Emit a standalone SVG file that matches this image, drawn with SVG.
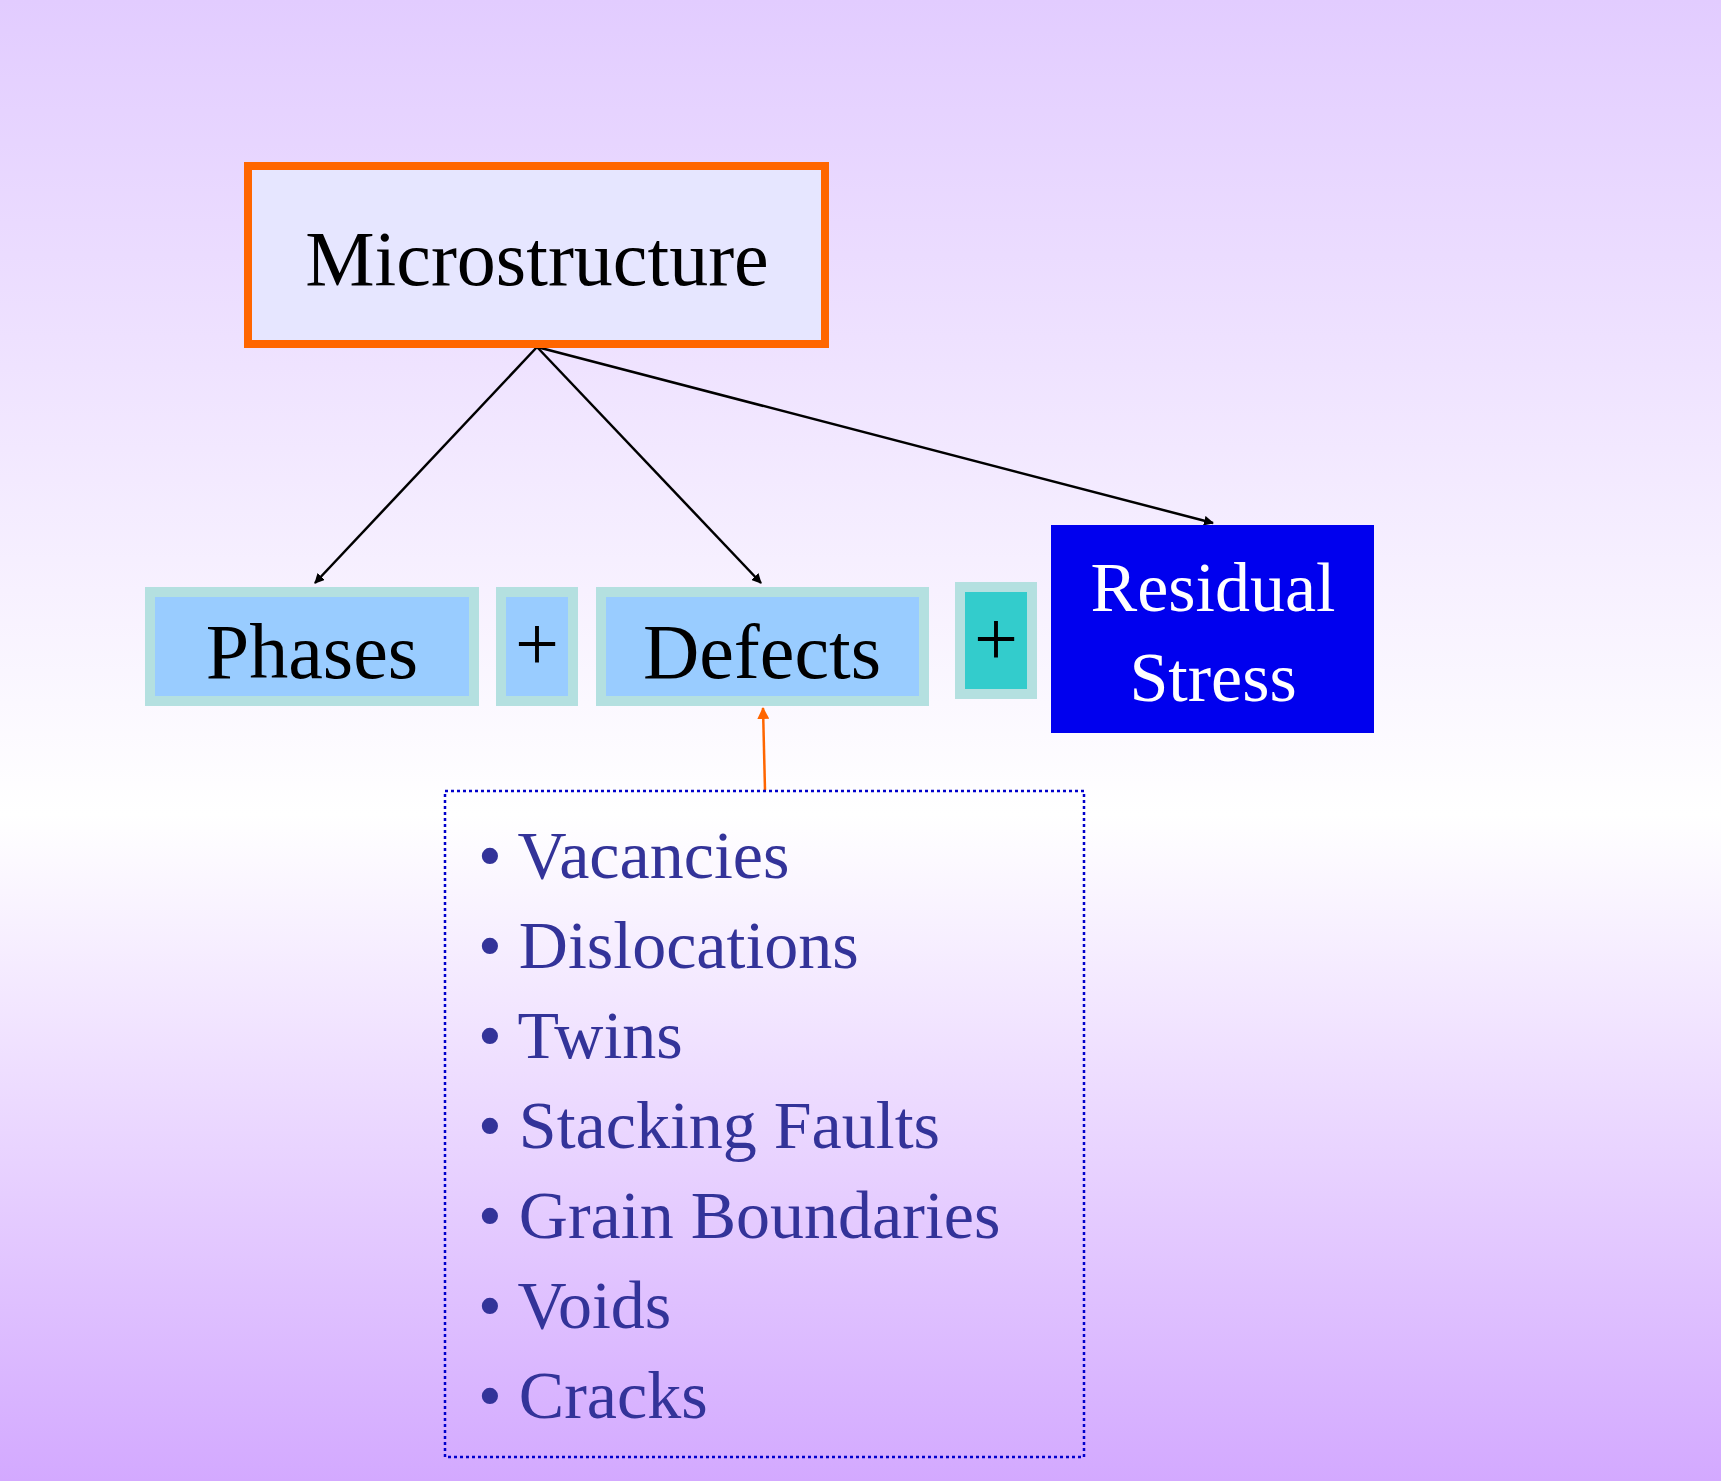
<svg xmlns="http://www.w3.org/2000/svg" width="1721" height="1481" viewBox="0 0 1721 1481">
<defs>
<linearGradient id="bg" x1="0" y1="0" x2="0" y2="1">
<stop offset="0" stop-color="#E2CCFF"/><stop offset="0.55" stop-color="#FFFFFF"/><stop offset="1" stop-color="#D3A9FF"/>
</linearGradient>
<marker id="ah" markerWidth="10" markerHeight="10" refX="9" refY="5" orient="auto" markerUnits="userSpaceOnUse" viewBox="0 0 10 10"><path d="M0,0 L10,5 L0,10 z" fill="#000"/></marker>
<marker id="ao" markerWidth="12" markerHeight="12" refX="11" refY="6" orient="auto" markerUnits="userSpaceOnUse" viewBox="0 0 12 12"><path d="M0,0 L12,6 L0,12 z" fill="#FF6600"/></marker>
<style>
text{font-family:"Liberation Serif","Times New Roman",serif}
.lb{fill:#99CCFF;stroke:#B4E0E0;stroke-width:10}
.t{font-size:78px;fill:#000;text-anchor:middle}
.li{font-size:68px;fill:#333399}
</style>
</defs>
<rect width="1721" height="1481" fill="url(#bg)"/>
<g id="connectors" stroke-width="2.5" fill="none">
<line x1="537" y1="347" x2="315" y2="583" stroke="#000" marker-end="url(#ah)" transform="scale(1)"/>
<line x1="537" y1="347" x2="761" y2="583" stroke="#000" marker-end="url(#ah)"/>
<line x1="537" y1="347" x2="1213" y2="523" stroke="#000" marker-end="url(#ah)"/>
<line x1="765" y1="790" x2="763" y2="708" stroke="#FF6600" marker-end="url(#ao)"/>
</g>
<g id="microstructure"><rect x="248" y="166" width="577" height="178" fill="#E6E6FF" stroke="#FF6600" stroke-width="8"/><text class="t" x="537" y="285">Microstructure</text></g>
<g id="phases"><rect class="lb" x="150" y="592" width="324" height="109"/><text class="t" x="312" y="678">Phases</text></g>
<g id="plus1"><rect class="lb" x="501" y="592" width="72" height="109"/><text class="t" x="537" y="670">+</text></g>
<g id="defects"><rect class="lb" x="601" y="592" width="323" height="109"/><text class="t" x="762" y="678">Defects</text></g>
<g id="plus2"><rect x="960" y="587" width="72" height="107" fill="#33CCCC" stroke="#B4E0E0" stroke-width="10"/><text class="t" x="996" y="665">+</text></g>
<g id="residual"><rect x="1051" y="525" width="323" height="208" fill="#0000EE"/><text x="1213" y="611" font-size="70" fill="#fff" text-anchor="middle">Residual</text><text x="1213" y="701" font-size="70" fill="#fff" text-anchor="middle">Stress</text></g>
<g id="defect-list"><rect x="445" y="791" width="639" height="666" fill="none" stroke="#0000CC" stroke-width="2.5" stroke-dasharray="3,3"/>
<text class="li" x="478" y="878">• Vacancies</text>
<text class="li" x="478" y="968">• Dislocations</text>
<text class="li" x="478" y="1058">• Twins</text>
<text class="li" x="478" y="1148">• Stacking Faults</text>
<text class="li" x="478" y="1238">• Grain Boundaries</text>
<text class="li" x="478" y="1328">• Voids</text>
<text class="li" x="478" y="1418">• Cracks</text>
</g>
</svg>
